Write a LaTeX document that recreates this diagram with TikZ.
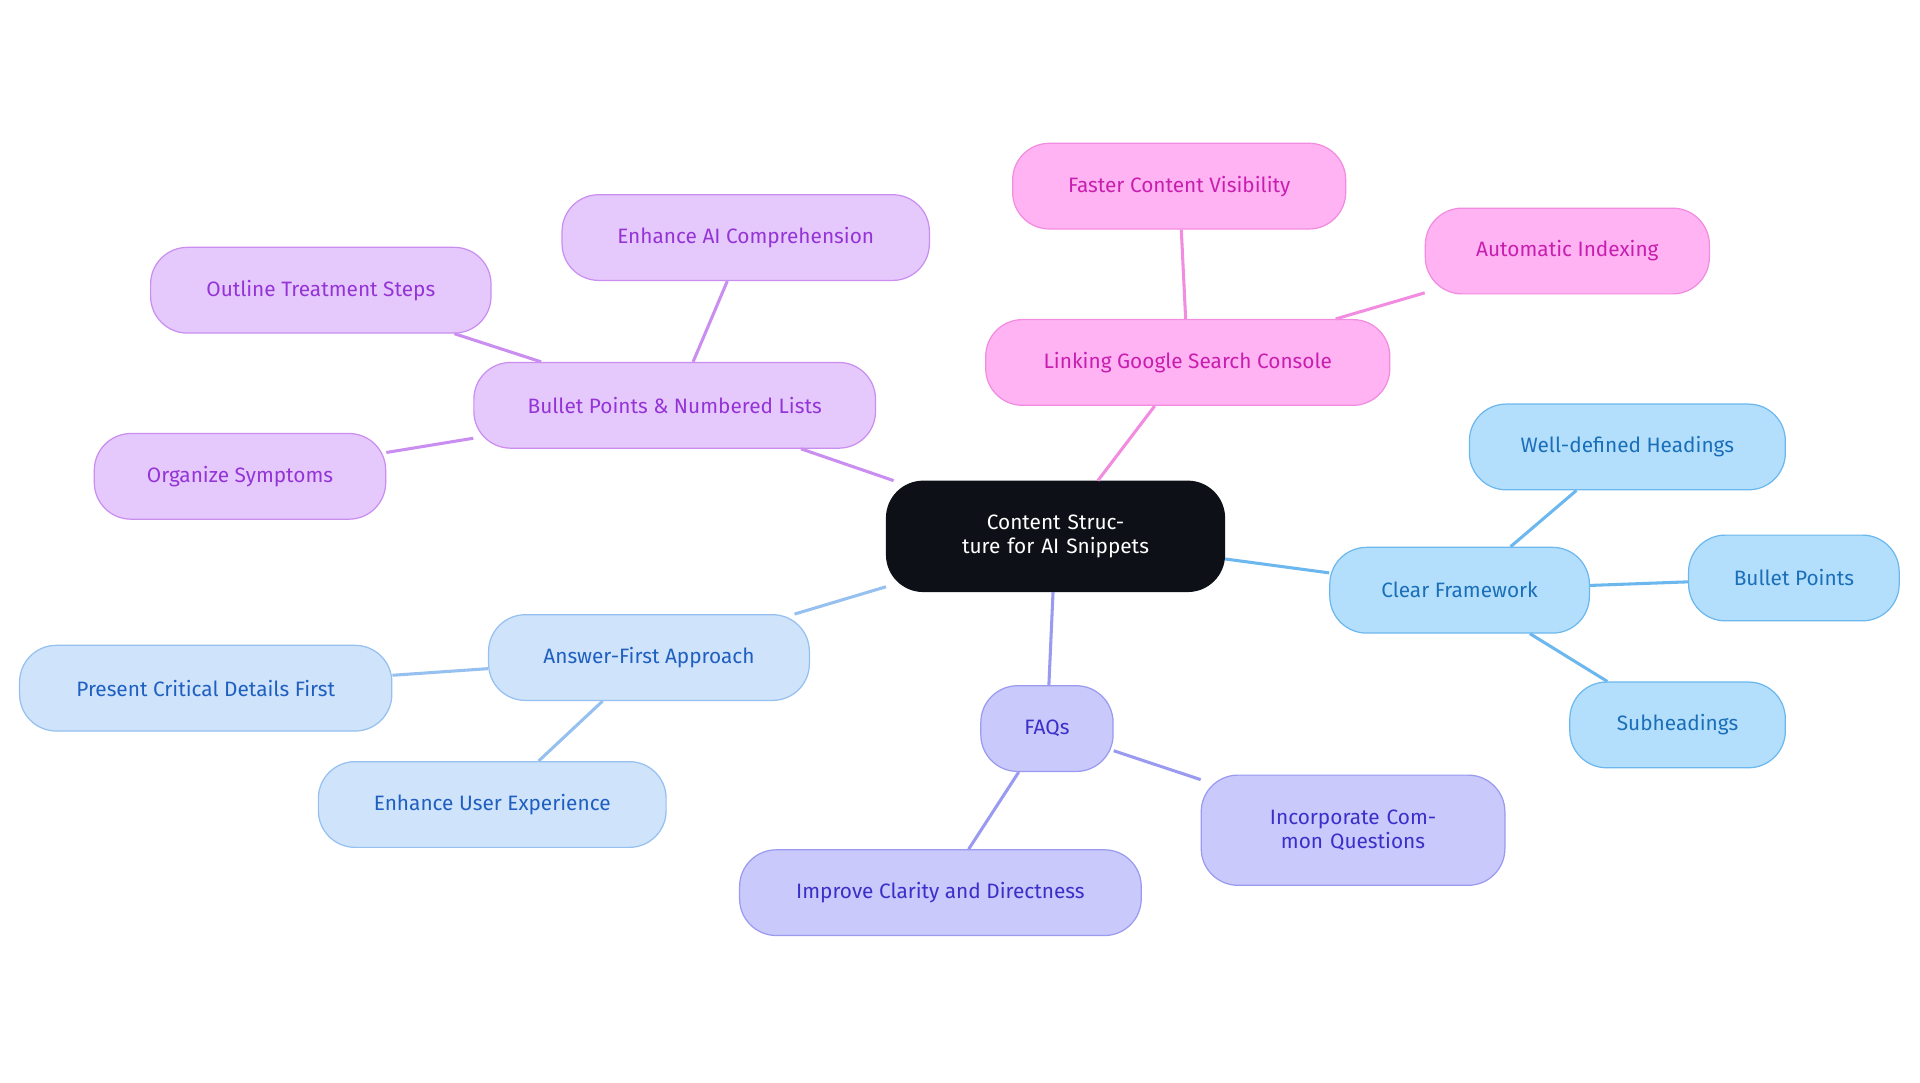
\documentclass[tikz,border=0pt]{standalone}
\usepackage{fontspec}
\setmainfont{Fira Sans}
\begin{document}
\begin{tikzpicture}[x=1pt,y=-1pt,
 base/.style={rounded corners=30pt,minimum height=70pt,line width=1pt,align=center,font=\fontsize{17}{19}\selectfont,inner sep=4pt},
 pu/.style={base,fill=pfill,draw=pdraw,text=ptext},
 pk/.style={base,fill=kfill,draw=kdraw,text=ktext},
 bl/.style={base,fill=bfill,draw=bdraw,text=btext},
 fq/.style={base,fill=ffill,draw=fdraw,text=ftext},
 an/.style={base,fill=afill,draw=adraw,text=atext},
 e/.style={line width=2.5pt}]
\definecolor{pfill}{HTML}{E6C9FC}\definecolor{pdraw}{HTML}{C98EF0}\definecolor{ptext}{HTML}{9434D6}
\definecolor{kfill}{HTML}{FFB3F2}\definecolor{kdraw}{HTML}{F28CE0}\definecolor{ktext}{HTML}{C81EB0}
\definecolor{bfill}{HTML}{B3DFFC}\definecolor{bdraw}{HTML}{6CB8EE}\definecolor{btext}{HTML}{1A6FB8}
\definecolor{ffill}{HTML}{C9C9FC}\definecolor{fdraw}{HTML}{9A9AF0}\definecolor{ftext}{HTML}{3A2FC8}
\definecolor{afill}{HTML}{CFE3FB}\definecolor{adraw}{HTML}{95C0F0}\definecolor{atext}{HTML}{1F5FC0}
\definecolor{dark}{HTML}{0D1117}
\useasboundingbox (0,0) rectangle (1568,884);
\node[base,fill=dark,draw=dark,text=white,minimum width=276pt,minimum height=90pt,text width=230pt] (c) at (862,438) {Content Structure for AI Snippets};
\node[pu,minimum width=328pt] (p) at (551,331) {Bullet Points \& Numbered Lists};
\node[pu,minimum width=300pt] (p1) at (609,194) {Enhance AI Comprehension};
\node[pu,minimum width=278pt] (p2) at (262,237) {Outline Treatment Steps};
\node[pu,minimum width=238pt] (p3) at (196,389) {Organize Symptoms};
\node[pk,minimum width=330pt] (k) at (970,296) {Linking Google Search Console};
\node[pk,minimum width=272pt] (k1) at (963,152) {Faster Content Visibility};
\node[pk,minimum width=232pt] (k2) at (1280,205) {Automatic Indexing};
\node[bl,minimum width=212pt] (b) at (1192,482) {Clear Framework};
\node[bl,minimum width=258pt] (b1) at (1329,365) {Well-defined Headings};
\node[bl,minimum width=172pt] (b2) at (1465,472) {Bullet Points};
\node[bl,minimum width=176pt] (b3) at (1370,592) {Subheadings};
\node[fq,minimum width=108pt] (f) at (855,595) {FAQs};
\node[fq,minimum width=248pt,minimum height=90pt,text width=210pt] (f1) at (1105,678) {Incorporate Common Questions};
\node[fq,minimum width=328pt] (f2) at (768,729) {Improve Clarity and Directness};
\node[an,minimum width=262pt] (a) at (530,537) {Answer-First Approach};
\node[an,minimum width=304pt] (a1) at (168,562) {Present Critical Details First};
\node[an,minimum width=284pt] (a2) at (402,657) {Enhance User Experience};
\begin{scope}[on background layer/.style={}]
\end{scope}
\begin{pgfonlayer}{main}\end{pgfonlayer}
\draw[e,pdraw] (c) -- (p); \draw[e,pdraw] (p) -- (p1); \draw[e,pdraw] (p) -- (p2); \draw[e,pdraw] (p) -- (p3);
\draw[e,kdraw] (c) -- (k); \draw[e,kdraw] (k) -- (k1); \draw[e,kdraw] (k) -- (k2);
\draw[e,bdraw] (c) -- (b); \draw[e,bdraw] (b) -- (b1); \draw[e,bdraw] (b) -- (b2); \draw[e,bdraw] (b) -- (b3);
\draw[e,fdraw] (c) -- (f); \draw[e,fdraw] (f) -- (f1); \draw[e,fdraw] (f) -- (f2);
\draw[e,adraw] (c) -- (a); \draw[e,adraw] (a) -- (a1); \draw[e,adraw] (a) -- (a2);
\end{tikzpicture}
\end{document}
